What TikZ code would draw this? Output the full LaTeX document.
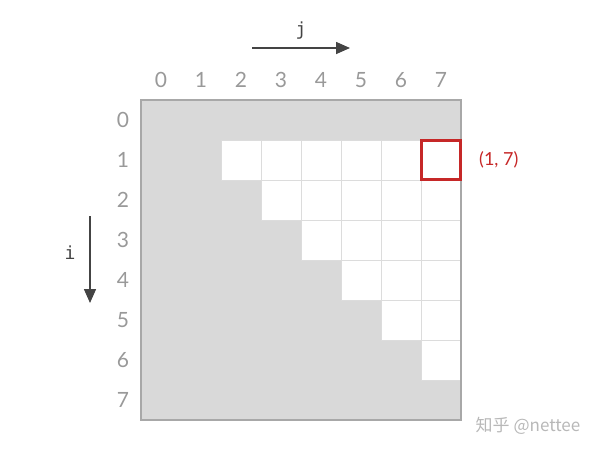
\documentclass[tikz,border=0pt]{standalone}
\usepackage{fontspec}
\setmainfont{Lato}
\setmonofont{DejaVu Sans Mono}
\newfontfamily\cjkfont{Noto Sans CJK SC}
\usetikzlibrary{arrows.meta}
\definecolor{gridgray}{HTML}{D9D9D9}
\definecolor{linegray}{HTML}{DCDCDC}
\definecolor{bordergray}{HTML}{A8A8A8}
\definecolor{labelgray}{HTML}{999999}
\definecolor{arrowgray}{HTML}{444444}
\definecolor{hired}{HTML}{C62828}
\definecolor{wmgray}{HTML}{B8B8B8}
\tikzset{
  idx/.style={text=labelgray, font=\fontsize{21}{25}\selectfont, inner sep=0pt},
  cell/.style={fill=white, draw=linegray, line width=1pt},
  axarrow/.style={draw=arrowgray, line width=1.6pt, -{Triangle[length=14pt,width=12pt]}},
  axlabel/.style={text=arrowgray, font=\ttfamily\fontsize{18}{21}\selectfont, inner sep=0pt},
}
\begin{document}
\begin{tikzpicture}[x=1pt,y=-1pt]
\useasboundingbox (0,0) rectangle (600,450);
% background grid
\fill[gridgray] (141,100) rectangle (461,420);
% white cells (upper triangle, j > i)
\foreach \r in {1,...,6}{
  \pgfmathtruncatemacro{\cstart}{\r+1}
  \foreach \c in {\cstart,...,7}{
    \draw[cell] ({141+40*\c},{100+40*\r}) rectangle ({181+40*\c},{140+40*\r});
  }
}
\draw[bordergray, line width=1.2pt] (141,100) rectangle (461,420);
% highlighted cell
\node[draw=hired, line width=2.6pt, minimum width=39pt, minimum height=39pt, inner sep=0pt] (hl) at (441,160) {};
\node[text=hired, font=\fontsize{18}{21}\selectfont, anchor=west, inner sep=0pt] (hllabel) at (479,160) {(1, 7)};
% column labels
\foreach \c in {0,...,7}{
  \node[idx] (col\c) at ({161+40*\c},80) {\c};
}
% row labels
\foreach \r in {0,...,7}{
  \node[idx] (row\r) at (123,{120+40*\r}) {\r};
}
% j axis
\coordinate (js) at (252,48);
\coordinate (je) at (350,48);
\draw[axarrow] (js) -- (je);
\node[axlabel] (jlab) at (301,31) {j};
% i axis
\coordinate (is) at (90,216);
\coordinate (ie) at (90,303);
\draw[axarrow] (is) -- (ie);
\node[axlabel] (ilab) at (70,253) {i};
% watermark
\node[text=wmgray, font=\cjkfont\fontsize{17}{20}\selectfont, inner sep=0pt] (wm) at (528,426) {知乎 @nettee};
\end{tikzpicture}
\end{document}
